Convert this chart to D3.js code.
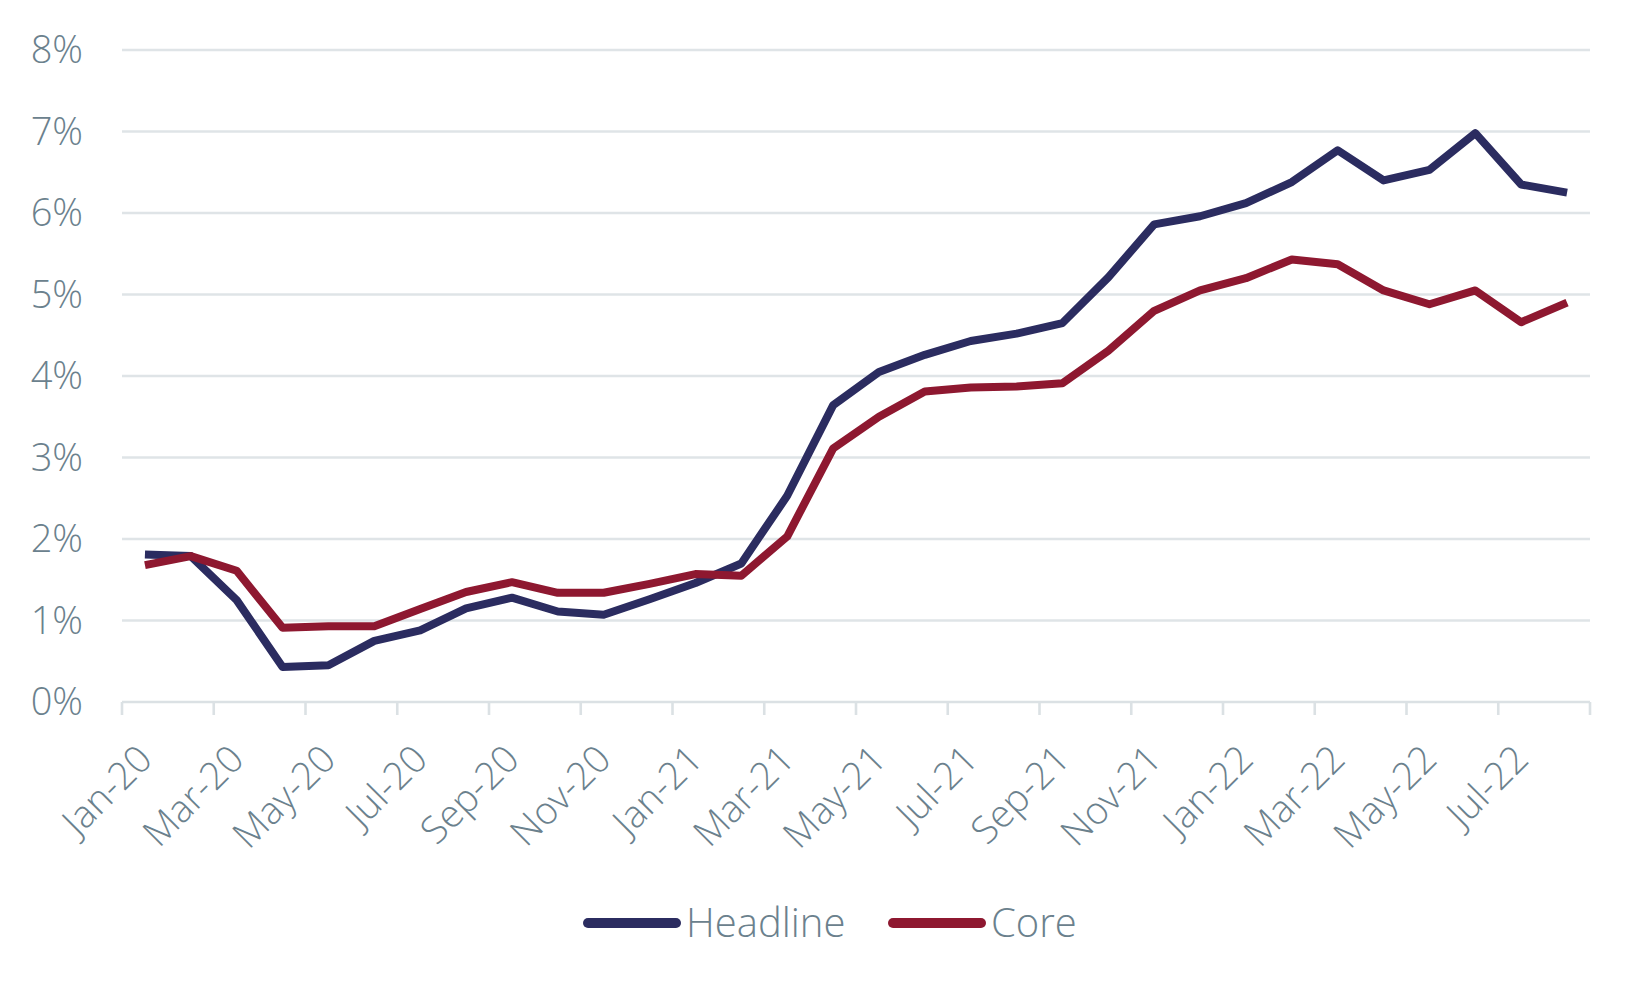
<!DOCTYPE html>
<html>
<head>
<meta charset="utf-8">
<script src="https://cdn.jsdelivr.net/npm/d3@7"></script>
<style>
  body { margin: 0; background: #ffffff; }
  svg { display: block; }
  text { font-family: "Open Sans", "Lato", sans-serif; font-weight: 300; fill: #6b818d; }
</style>
</head>
<body>
<div id="chart"></div>
<script>
//months on the x axis
var months = ["Jan-20","Feb-20","Mar-20","Apr-20","May-20","Jun-20","Jul-20","Aug-20","Sep-20","Oct-20","Nov-20","Dec-20",
              "Jan-21","Feb-21","Mar-21","Apr-21","May-21","Jun-21","Jul-21","Aug-21","Sep-21","Oct-21","Nov-21","Dec-21",
              "Jan-22","Feb-22","Mar-22","Apr-22","May-22","Jun-22","Jul-22","Aug-22"];

//labels that get written under the axis
var tickLabels = ["Jan-20","Mar-20","May-20","Jul-20","Sep-20","Nov-20","Jan-21","Mar-21","May-21","Jul-21","Sep-21","Nov-21","Jan-22","Mar-22","May-22","Jul-22"];

//y ticks in percent
var yTicks = [0, 1, 2, 3, 4, 5, 6, 7, 8];

//series values (percent)
var headline = [1.81, 1.79, 1.25, 0.43, 0.45, 0.75, 0.88, 1.15, 1.28, 1.11, 1.07, 1.26,
                1.46, 1.70, 2.53, 3.64, 4.05, 4.26, 4.43, 4.52, 4.65, 5.21, 5.86, 5.96,
                6.12, 6.38, 6.77, 6.40, 6.53, 6.98, 6.35, 6.25];
var core = [1.68, 1.79, 1.61, 0.91, 0.93, 0.93, 1.14, 1.35, 1.47, 1.34, 1.34, 1.45,
            1.57, 1.55, 2.03, 3.11, 3.50, 3.81, 3.86, 3.87, 3.91, 4.31, 4.80, 5.05,
            5.20, 5.43, 5.37, 5.05, 4.88, 5.05, 4.66, 4.90];

var seriesNames = ["Headline", "Core"];
var seriesColors = ["#2b2c60", "#8e1830"];

var width = 1650;
var height = 990;
//plot edges (not called "top" because window.top is taken)
var plotLeft = 122, plotRight = 1590, plotTop = 50, plotBottom = 702;

var svg = d3.select("#chart").append("svg")
    .attr("width", width)
    .attr("height", height);

//band scale so the points sit in the middle of each month and the ticks sit between
var x = d3.scaleBand()
    .domain(months)
    .range([plotLeft, plotRight]);

var y = d3.scaleLinear()
    .domain([0, 8])
    .range([plotBottom, plotTop]);

//gridlines
svg.append("g")
    .selectAll("line")
    .data(yTicks.slice(1))
    .enter().append("line")
        .attr("x1", plotLeft)
        .attr("x2", plotRight)
        .attr("y1", function (d) { return y(d); })
        .attr("y2", function (d) { return y(d); })
        .attr("stroke", "#dfe4e7")
        .attr("stroke-width", 2.6);

//y labels
svg.append("g")
    .selectAll("text")
    .data(yTicks)
    .enter().append("text")
        .attr("x", 83)
        .attr("y", function (d) { return y(d); })
        .attr("dy", "0.35em")
        .attr("text-anchor", "end")
        .style("font-size", "38px")
        .text(function (d) { return d + "%"; });

//x axis line with ticks every two months
var tickPos = d3.range(0, months.length + 1, 2).map(function (i) { return plotLeft + i * x.step(); });

svg.append("line")
    .attr("x1", plotLeft)
    .attr("x2", plotRight)
    .attr("y1", plotBottom)
    .attr("y2", plotBottom)
    .attr("stroke", "#dbe1e4")
    .attr("stroke-width", 2.6);

svg.append("g")
    .selectAll("line")
    .data(tickPos)
    .enter().append("line")
        .attr("x1", function (d) { return d; })
        .attr("x2", function (d) { return d; })
        .attr("y1", plotBottom)
        .attr("y2", plotBottom + 13)
        .attr("stroke", "#dbe1e4")
        .attr("stroke-width", 2.6);

//rotated month labels
svg.append("g")
    .selectAll("text")
    .data(tickLabels)
    .enter().append("text")
        .attr("transform", function (d) {
            return "translate(" + (x(d) + x.bandwidth() / 2) + ",752) rotate(-45)";
        })
        .attr("dy", "0.35em")
        .attr("text-anchor", "end")
        .style("font-size", "38px")
        .text(function (d) { return d; });

//the two lines
var line = d3.line()
    .x(function (d, i) { return x(months[i]) + x.bandwidth() / 2; })
    .y(function (d) { return y(d); });

[headline, core].forEach(function (values, k) {
    svg.append("path")
        .datum(values)
        .attr("d", line)
        .attr("fill", "none")
        .attr("stroke", seriesColors[k])
        .attr("stroke-width", 8)
        .attr("stroke-linejoin", "round");
});

//legend
var legendX = [588, 893];
var legend = svg.append("g")
    .selectAll("g")
    .data(seriesNames)
    .enter().append("g")
        .attr("transform", function (d, i) { return "translate(" + legendX[i] + ",923)"; });

legend.append("line")
    .attr("x1", 0)
    .attr("x2", 88)
    .attr("stroke", function (d, i) { return seriesColors[i]; })
    .attr("stroke-width", 10)
    .attr("stroke-linecap", "round");

legend.append("text")
    .attr("x", 98)
    .attr("dy", "0.35em")
    .style("font-size", "40px")
    .text(function (d) { return d; });
</script>
</body>
</html>
